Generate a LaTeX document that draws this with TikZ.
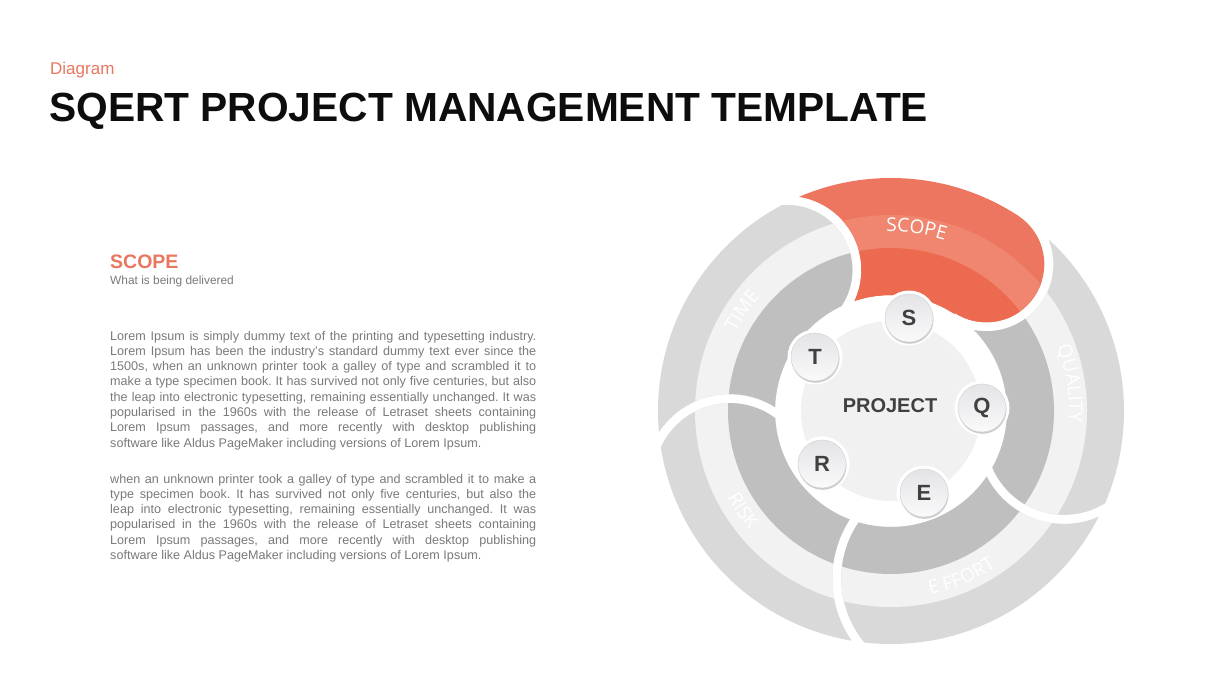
\documentclass[tikz,border=0pt]{standalone}
\usepackage{fontspec}
\setmainfont{Liberation Sans}
\newfontfamily\opensans{Open Sans}
\usetikzlibrary{decorations.text}
\definecolor{salmon}{HTML}{E9775F}
\definecolor{bodygray}{HTML}{7A7A7A}
\definecolor{titleblack}{HTML}{0D0D0D}
\definecolor{gOut}{HTML}{D9D9D9}
\definecolor{gMid}{HTML}{F2F2F2}
\definecolor{gIn}{HTML}{BFBFBF}
\definecolor{sOut}{HTML}{EC7660}
\definecolor{sMid}{HTML}{F0866F}
\definecolor{sIn}{HTML}{EC6A4F}
\definecolor{darktxt}{HTML}{404040}
\definecolor{badgeTop}{HTML}{E4E4E7}
\definecolor{badgeBot}{HTML}{FAFAFB}
\definecolor{badgeRim}{HTML}{D8D8DC}
\definecolor{badgeShadow}{HTML}{CBCBCF}
\definecolor{discgray}{HTML}{F1F1F1}

\newcommand\segRi{116}
\newcommand\segRo{233}
\newcommand\segRa{163}
\newcommand\segRb{196}
\newcommand\segDc{175}
\newcommand\segGap{9}

% #1 cap angle, #2 start angle, #3 previous cap radius, #4 own cap radius, #5-#7 colours
\newcommand\segment[7]{%
  \begin{scope}[even odd rule]
    \clip (-300,-300) rectangle (300,300) (#2:\segDc) circle ({#3+\segGap});
    \clip (0,0) circle (\segRo) (0,0) circle (\segRi);
    \begin{scope}[nonzero rule]
      \clip (0,0) -- (#1:300) arc[start angle=#1, end angle=#2, radius=300] -- cycle
            (#1:\segDc) circle (#4);
      \fill[#5] (0,0) circle (250);
      \fill[#6] (0,0) circle (\segRb);
      \fill[#7] (0,0) circle (\segRa);
    \end{scope}
  \end{scope}}

\newcommand\lblfont{\opensans\fontsize{19}{19}\selectfont\color{white}}

\tikzset{
  badge/.style={circle, minimum size=48pt, inner sep=0pt, top color=badgeTop,
    bottom color=badgeBot, draw=badgeRim, line width=0.6pt,
    font=\fontsize{22}{22}\selectfont\bfseries, text=darktxt},
  bodyline/.style={anchor=base west, inner sep=0pt, text=bodygray,
    font=\fontsize{12.6}{15.3}\selectfont},
  arclabel/.style={decorate, decoration={text along path, text align=center}},
}

\begin{document}
\begin{tikzpicture}[x=1pt, y=-1pt]
\useasboundingbox (0,0) rectangle (1227,690);
\fill[white] (0,0) rectangle (1227,690);

% ---- left texts ----
\node[anchor=base west, inner sep=0pt, text=salmon, font=\fontsize{17}{17}\selectfont] (kicker) at (50,75) {Diagram};
\node[anchor=base west, inner sep=0pt, text=titleblack, font=\fontsize{40.7}{40.7}\selectfont\bfseries] (title) at (49,122) {SQERT PROJECT MANAGEMENT TEMPLATE};
\node[anchor=base west, inner sep=0pt, text=salmon, font=\fontsize{19.5}{19.5}\selectfont\bfseries] (head) at (110,268) {SCOPE};
\node[anchor=base west, inner sep=0pt, text=bodygray, font=\fontsize{11.9}{11.9}\selectfont] (sub) at (110,284) {What is being delivered};

\node[bodyline] (p1) at (110,340) {\parbox[t]{426pt}{\parindent=0pt\frenchspacing
\makebox[426pt][s]{Lorem Ipsum is simply dummy text of the printing and typesetting industry.}\\
\makebox[426pt][s]{Lorem Ipsum has been the industry’s standard dummy text ever since the}\\
\makebox[426pt][s]{1500s, when an unknown printer took a galley of type and scrambled it to}\\
\makebox[426pt][s]{make a type specimen book. It has survived not only five centuries, but also}\\
\makebox[426pt][s]{the leap into electronic typesetting, remaining essentially unchanged. It was}\\
\makebox[426pt][s]{popularised in the 1960s with the release of Letraset sheets containing}\\
\makebox[426pt][s]{Lorem Ipsum passages, and more recently with desktop publishing}\\
software like Aldus PageMaker including versions of Lorem Ipsum.}};

\node[bodyline] (p2) at (110,483) {\parbox[t]{426pt}{\parindent=0pt\frenchspacing
\makebox[426pt][s]{when an unknown printer took a galley of type and scrambled it to make a}\\
\makebox[426pt][s]{type specimen book. It has survived not only five centuries, but also the}\\
\makebox[426pt][s]{leap into electronic typesetting, remaining essentially unchanged. It was}\\
\makebox[426pt][s]{popularised in the 1960s with the release of Letraset sheets containing}\\
\makebox[426pt][s]{Lorem Ipsum passages, and more recently with desktop publishing}\\
software like Aldus PageMaker including versions of Lorem Ipsum.}};

% ---- diagram ----
\begin{scope}[shift={(891,411)}, y=1pt]
  % segments: cap angle, start angle, prev cap radius, own cap radius
  \segment{57}{126.3}{65}{58}{sOut}{sMid}{sIn}       % SCOPE
  \segment{126.3}{202.9}{76}{65}{gOut}{gMid}{gIn}    % TIME
  \segment{202.9}{286.7}{100}{76}{gOut}{gMid}{gIn}   % RISK
  \segment{286.7}{351.5}{78}{100}{gOut}{gMid}{gIn}   % EFFORT
  \segment{351.5}{417}{58}{78}{gOut}{gMid}{gIn}      % QUALITY

  % segment labels (curved along the light stripe)
  \path[arclabel, decoration={text={|\lblfont|SCOPE}}] (122:179) arc[start angle=122, end angle=42, radius=179];
  \path[arclabel, decoration={text={|\lblfont|TIME}}] (186:174) arc[start angle=186, end angle=106, radius=174];
  \path[arclabel, decoration={text={|\lblfont|QUALITY}}] (48.7:178) arc[start angle=48.7, end angle=-31.3, radius=178];
  \path[arclabel, decoration={text={|\lblfont|RISK}}] (174:185) arc[start angle=174, end angle=254, radius=185];
  \path[arclabel, decoration={text={|\lblfont|E FFORT}}] (253:188) arc[start angle=253, end angle=333, radius=188];

  % centre
  \fill[discgray] (0,0) circle (90);
  \node[inner sep=0pt, text=darktxt, font=\fontsize{20}{20}\selectfont\bfseries] (proj) at (-1,5) {PROJECT};

  % badges
  \foreach \px/\py in {18/93, -76/54, 91/3, -69/-53, 33/-82}{
    \fill[white] (\px,\py) circle (27.5);
    \fill[badgeShadow] (\px+0.5,\py-1.8) circle (24);
  }
  \node[badge] (bS) at (18,93) {S};
  \node[badge] (bT) at (-76,54) {T};
  \node[badge] (bQ) at (91,3) {Q};
  \node[badge] (bR) at (-69,-53) {R};
  \node[badge] (bE) at (33,-82) {E};
\end{scope}
\end{tikzpicture}
\end{document}
